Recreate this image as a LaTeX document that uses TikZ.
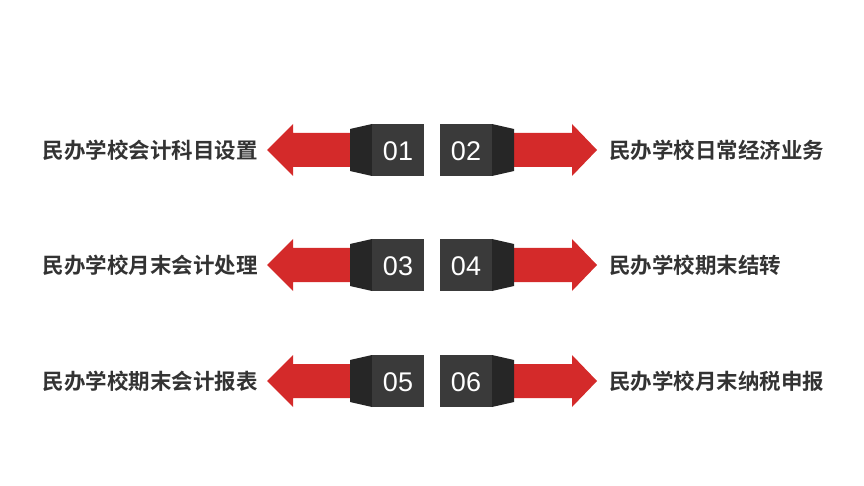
\documentclass[tikz,border=0pt]{standalone}
\usepackage{fontspec}
\newfontfamily\cjk{Noto Sans CJK SC Bold}
\setmainfont{Liberation Sans}
\definecolor{ared}{HTML}{D42A2A}
\definecolor{boxg}{HTML}{3A3A3A}
\definecolor{tapg}{HTML}{262626}
\definecolor{txt}{HTML}{333333}
\begin{document}
\begin{tikzpicture}[x=1pt,y=-1pt,
  lab/.style={font=\cjk\fontsize{21.5}{24}\selectfont,text=txt,inner sep=0},
  num/.style={font=\fontsize{27}{30}\selectfont,text=white,inner sep=0}]
\useasboundingbox (0,0) rectangle (864,486);
\foreach \y/\a/\b/\ta/\tb [count=\i] in {150/01/02/民办学校会计科目设置/民办学校日常经济业务,
  265/03/04/民办学校月末会计处理/民办学校期末结转,
  381/05/06/民办学校期末会计报表/民办学校月末纳税申报}{
  \begin{scope}[shift={(0,\y)}]
  % left
  \fill[ared] (267,0) -- (293,-26) -- (293,-17) -- (352,-17) -- (352,17) -- (293,17) -- (293,26) -- cycle;
  \fill[tapg] (350,-21) -- (372,-26) -- (372,26) -- (350,21) -- cycle;
  \fill[boxg] (372,-26) rectangle (424,26);
  \node[num] (n\i a) at (398,1) {\a};
  % right
  \fill[ared] (597,0) -- (572,-26) -- (572,-17) -- (512,-17) -- (512,17) -- (572,17) -- (572,26) -- cycle;
  \fill[tapg] (514,-21) -- (492,-26) -- (492,26) -- (514,21) -- cycle;
  \fill[boxg] (440,-26) rectangle (492,26);
  \node[num] (n\i b) at (466,1) {\b};
  \node[lab,anchor=east] (l\i) at (258,0) {\ta};
  \node[lab,anchor=west] (r\i) at (609,0) {\tb};
  \end{scope}}
\end{tikzpicture}
\end{document}
